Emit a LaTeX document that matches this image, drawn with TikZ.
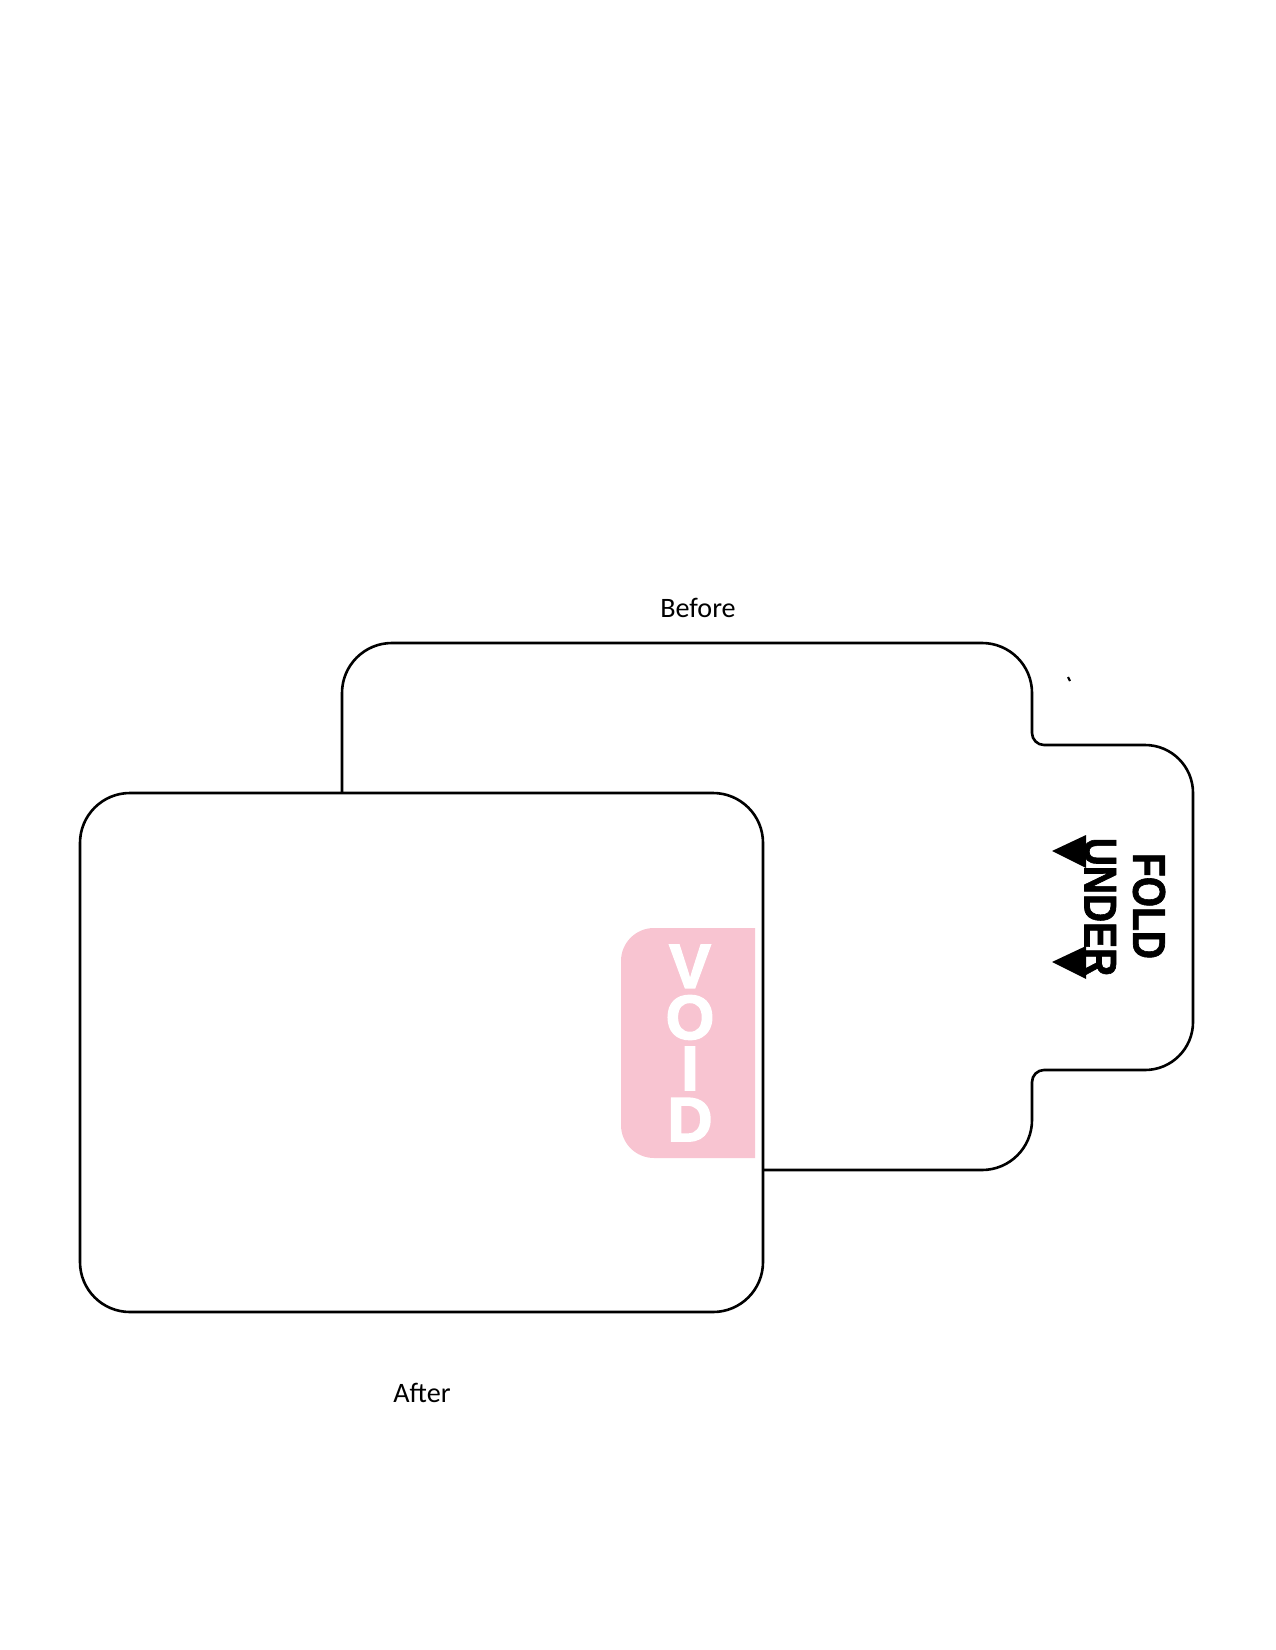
\documentclass[tikz,border=0pt]{standalone}
\usepackage{fontspec}
\setmainfont{Carlito}
\newfontfamily\heavysans[FakeBold=2.5]{Liberation Sans Bold}
\newfontfamily\foldsans[FakeBold=1.5]{Liberation Sans Bold}
\usepackage{tikz}
\usetikzlibrary{positioning}
\definecolor{voidpink}{RGB}{248,196,209}
\tikzset{
  card/.style={draw, line width=1.25pt, fill=white},
  caption/.style={font=\fontsize{13.5}{16}\selectfont, anchor=base, inner sep=0pt},
  voidtext/.style={font=\heavysans\fontsize{30}{24.5}\selectfont, text=white, align=center, inner sep=0pt},
  foldtext/.style={font=\foldsans\fontsize{22}{22}\selectfont, rotate=-90, inner sep=0pt},
  foldarrow/.style={fill=black}
}
\begin{document}
\begin{tikzpicture}[x=0.48pt, y=-0.48pt]
    \useasboundingbox (0,0) rectangle (1275,1650);

    % back card with fold tab
    \draw[card] (342,1120) -- (342,693) arc[start angle=180, end angle=90, radius=24pt]
      -- (982,643) arc[start angle=90, end angle=0, radius=24pt]
      -- (1032,733) arc[start angle=180, end angle=270, radius=5.76pt]
      -- (1145,745) arc[start angle=90, end angle=0, radius=23.04pt]
      -- (1193,1022) arc[start angle=0, end angle=-90, radius=23.04pt]
      -- (1044,1070) arc[start angle=90, end angle=180, radius=5.76pt]
      -- (1032,1120) arc[start angle=0, end angle=-90, radius=24pt]
      -- (392,1170) arc[start angle=270, end angle=180, radius=24pt] -- cycle;
    \draw[line width=1pt] (1068,677) -- (1070,681);

    \node[foldtext] (fold) at (1149,906) {\scalebox{0.85}[1]{FOLD}};
    \node[foldtext] (under) at (1100,907) {\scalebox{0.85}[1]{UNDER}};
    \fill[foldarrow] (1052,851) -- (1086,835) -- (1086,868) -- cycle;
    \fill[foldarrow] (1052,962) -- (1086,946) -- (1086,979) -- cycle;

    % front card
    \draw[card] (80,843) arc[start angle=180, end angle=90, radius=24pt]
      -- (713,793) arc[start angle=90, end angle=0, radius=24pt]
      -- (763,1262) arc[start angle=0, end angle=-90, radius=24pt]
      -- (130,1312) arc[start angle=270, end angle=180, radius=24pt] -- cycle;

    % void mark
    \fill[voidpink] (755,928) -- (654,928) arc[start angle=90, end angle=180, radius=15.84pt]
      -- (621,1125) arc[start angle=180, end angle=270, radius=15.84pt]
      -- (755,1158) -- cycle;
    \node[voidtext] (void) at (690,1043) {V\\O\\I\\D};

    \node[caption] (before) at (698,617) {Before};
    \node[caption] (after) at (422,1402) {After};
\end{tikzpicture}
\end{document}
